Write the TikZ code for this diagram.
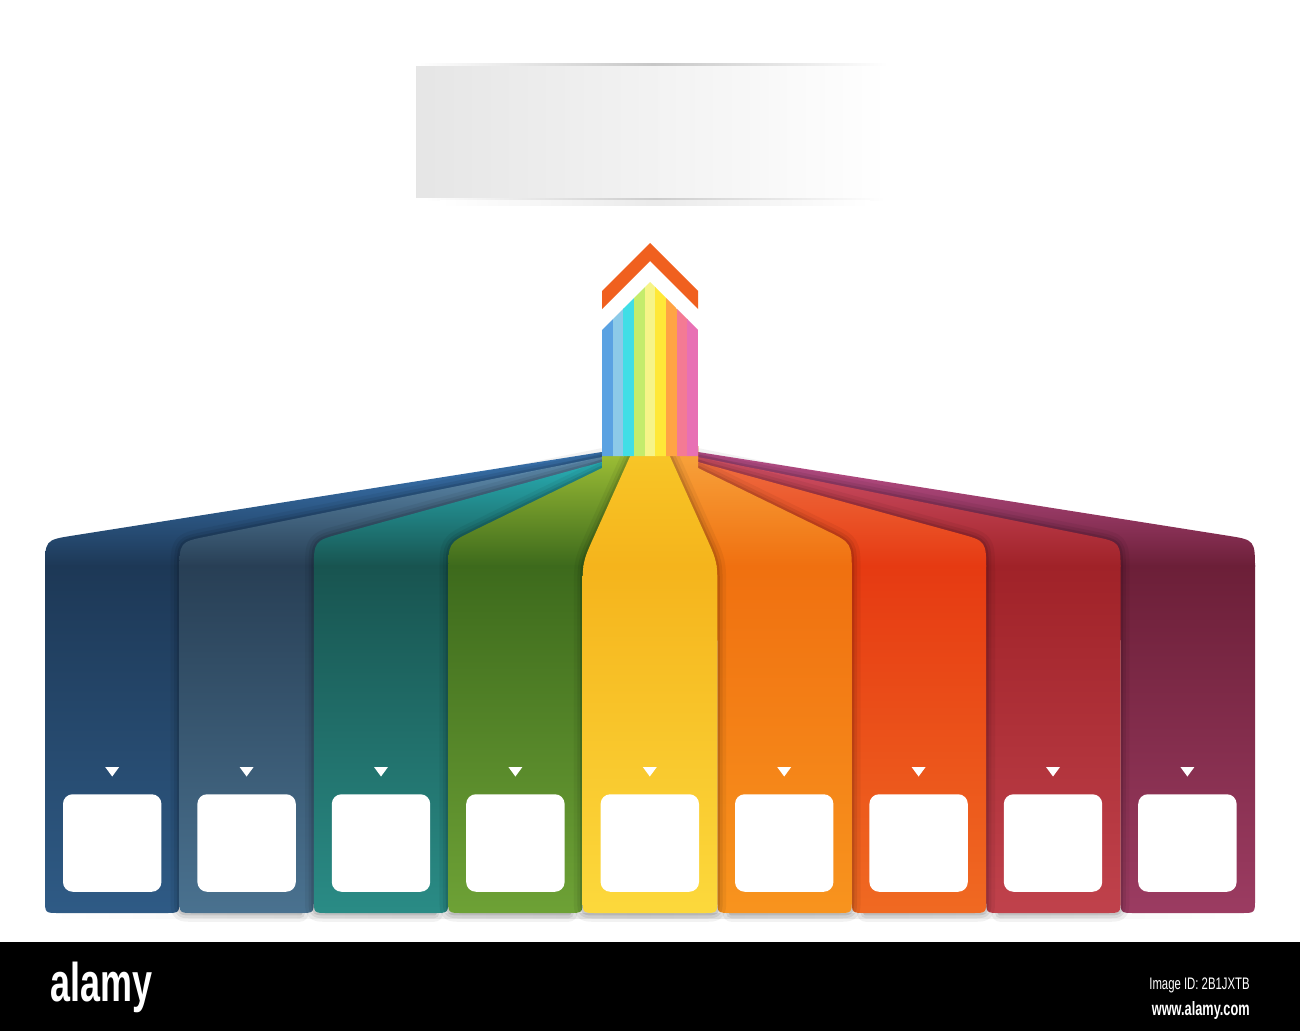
\documentclass[tikz,border=0pt]{standalone}
\usepackage{fontspec}
\setmainfont{Liberation Sans}
\usepackage{graphicx}
\usetikzlibrary{calc}
% panel colours: r = ribbon (top), d = dark (upper body), l = light (bottom)
\definecolor{p1r}{HTML}{3F7FC0}\definecolor{p1d}{HTML}{1D3856}\definecolor{p1l}{HTML}{2F5B86}
\definecolor{p2r}{HTML}{6A9CC0}\definecolor{p2d}{HTML}{283F55}\definecolor{p2l}{HTML}{4A7290}
\definecolor{p3r}{HTML}{2CC0C8}\definecolor{p3d}{HTML}{185450}\definecolor{p3l}{HTML}{2A8C86}
\definecolor{p4r}{HTML}{A8C838}\definecolor{p4d}{HTML}{3D6A1C}\definecolor{p4l}{HTML}{6EA236}
\definecolor{p5r}{HTML}{F8C828}\definecolor{p5d}{HTML}{F5B41C}\definecolor{p5l}{HTML}{FCD93C}
\definecolor{p6r}{HTML}{F8A840}\definecolor{p6d}{HTML}{F07010}\definecolor{p6l}{HTML}{F8941E}
\definecolor{p7r}{HTML}{F07848}\definecolor{p7d}{HTML}{E63A12}\definecolor{p7l}{HTML}{F06A22}
\definecolor{p8r}{HTML}{D85870}\definecolor{p8d}{HTML}{A02228}\definecolor{p8l}{HTML}{C0424C}
\definecolor{p9r}{HTML}{C85898}\definecolor{p9d}{HTML}{6C1F38}\definecolor{p9l}{HTML}{9C3C62}
% stem stripes
\definecolor{s1}{HTML}{5AA2E2}\definecolor{s2}{HTML}{8CCAE8}\definecolor{s3}{HTML}{40DEE6}
\definecolor{s4}{HTML}{C4EC6C}\definecolor{s5}{HTML}{F6F488}\definecolor{s6}{HTML}{FFE838}
\definecolor{s7}{HTML}{FFA444}\definecolor{s8}{HTML}{F47A94}\definecolor{s9}{HTML}{E870B4}
\definecolor{chev}{HTML}{F0601F}
\tikzset{
  glowA/.style={draw=black, line width=10pt, draw opacity=0.05, line join=round, line cap=round},
  glowB/.style={draw=black, line width=6pt, draw opacity=0.07, line join=round, line cap=round},
  glowC/.style={draw=black, line width=2.8pt, draw opacity=0.1, line join=round, line cap=round},
  box/.style={fill=white, minimum width=56pt, minimum height=55.5pt, inner sep=0pt, rounded corners=5.5pt},
  tri/.style={fill=white},
  banner/.style={minimum width=269pt, minimum height=74.8pt, inner sep=0pt, left color=black!10, right color=white},
  bartext/.style={text=white, inner sep=0pt}
}
% visible outline of a left-hand panel: #1 left x, #2 right x, #3 top vertex y, #4/#5 end of ribbon
\newcommand{\Lopen}[5]{(#2-14,913) -- (#1+14,913) .. controls (#1,913) .. (#1,899) -- (#1,#3+30) .. controls (#1,#3) .. ($(#1,#3)!16pt!(#4,#5)$) -- (#4,#5)}
\newcommand{\Lclosed}[5]{(#2-14,913) -- (#1+14,913) .. controls (#1,913) .. (#1,899) -- (#1,#3+30) .. controls (#1,#3) .. ($(#1,#3)!16pt!(#4,#5)$) -- (#4,#5) -- (#4,446) -- (650,446) -- (650,640) -- (#2,640) -- (#2,899) .. controls (#2,913) .. (#2-14,913) -- cycle}
\newcommand{\panelglow}[5]{%
  \path[glowA] \Lopen{#1}{#2}{#3}{#4}{#5};
  \path[glowB] \Lopen{#1}{#2}{#3}{#4}{#5};
  \path[glowC] \Lopen{#1}{#2}{#3}{#4}{#5};}
\newcommand{\panelfill}[8]{%
  \begin{scope}
    \clip \Lclosed{#1}{#2}{#3}{#4}{#5};
    \shade[top color=#6, bottom color=#7] (0,440) rectangle (1300,566);
    \shade[top color=#7, bottom color=#8] (0,565) rectangle (1300,916);
  \end{scope}}
\newcommand{\sidepanel}[8]{\panelglow{#1}{#2}{#3}{#4}{#5}\panelfill{#1}{#2}{#3}{#4}{#5}{#6}{#7}{#8}}
\newcommand{\Cshape}{(596.6,913) .. controls (582.6,913) .. (582.6,899) -- (582.6,592) .. controls (582.6,562) .. ($(582.6,562)!16pt!(632,452)$) -- (632,452) -- (668,452) -- ($(717.4,562)!16pt!(668,452)$) .. controls (717.4,562) .. (717.4,592) -- (717.4,899) .. controls (717.4,913) .. (703.4,913) -- cycle}
\begin{document}
\begin{tikzpicture}[x=0.02cm,y=-0.02cm]
\useasboundingbox (0,0) rectangle (1300,1031);
\fill[white] (0,0) rectangle (1300,1031);

% ---- title banner ----
\shade[left color=white, right color=white, middle color=black!22] (418,63.5) rectangle (888,66.5);
\shade[left color=white, right color=white, middle color=black!20] (425,197) rectangle (885,200);
\shade[left color=white, right color=white, middle color=black!8] (440,200) rectangle (870,205);
\node[banner] (title) at (652.5,132) {};

% ---- soft shadow under the row of panels ----
\shade[left color=white, right color=white, middle color=black!10] (50,913) rectangle (1250,918);

% ---- panels (back to front) ----
\panelfill{45}{179.4}{540}{602}{452}{p1r}{p1d}{p1l}
\begin{scope}[shift={(1300,0)},xscale=-1]
  \panelfill{45}{179.4}{540}{602}{452}{p9r}{p9d}{p9l}
\end{scope}
\sidepanel{179.4}{313.8}{542}{602}{457}{p2r}{p2d}{p2l}
\begin{scope}[shift={(1300,0)},xscale=-1]
  \sidepanel{179.4}{313.8}{542}{602}{457}{p8r}{p8d}{p8l}
\end{scope}
\sidepanel{313.8}{448.2}{541}{602}{462}{p3r}{p3d}{p3l}
\begin{scope}[shift={(1300,0)},xscale=-1]
  \sidepanel{313.8}{448.2}{541}{602}{462}{p7r}{p7d}{p7l}
\end{scope}
\sidepanel{448.2}{582.6}{543}{602}{468}{p4r}{p4d}{p4l}
\begin{scope}[shift={(1300,0)},xscale=-1]
  \sidepanel{448.2}{582.6}{543}{602}{468}{p6r}{p6d}{p6l}
\end{scope}
% centre panel
\path[glowA] \Cshape;
\path[glowB] \Cshape;
\path[glowC] \Cshape;
\begin{scope}
  \clip \Cshape;
  \shade[top color=p5r, bottom color=p5d] (0,440) rectangle (1300,566);
  \shade[top color=p5d, bottom color=p5l] (0,565) rectangle (1300,916);
\end{scope}

% ---- rainbow stem and chevron ----
\begin{scope}
  \clip (602,456) -- (602,330) -- (650,282) -- (698,330) -- (698,456) -- cycle;
  \foreach \c [count=\i from 0] in {s1,s2,s3,s4,s5,s6,s7,s8,s9}
    \fill[\c] ({602+\i*10.6667},270) rectangle ({602+\i*10.6667+11},460);
\end{scope}
\fill[chev] (650,243) -- (698,291) -- (698,309) -- (650,261) -- (602,309) -- (602,291) -- cycle;

% ---- markers and text boxes ----
\foreach \cx [count=\i] in {112.2,246.6,381,515.4,649.8,784.2,918.6,1053,1187.4}{
  \fill[tri] (\cx-7,767) -- (\cx+7,767) -- (\cx,776.5) -- cycle;
  \node[box] (box\i) at (\cx,843) {};
}

% ---- bottom bar ----
\fill[black] (0,942) rectangle (1300,1031);
\node[bartext, anchor=base west] (logo) at (50,1001) {\scalebox{0.66}[1]{\fontsize{31}{31}\selectfont\bfseries alamy}};
\node[bartext, anchor=base east] (imgid) at (1250,989) {\scalebox{0.68}[1]{\fontsize{9.5}{10}\selectfont Image ID: 2B1JXTB}};
\node[bartext, anchor=base east] (site) at (1250,1015) {\scalebox{0.66}[1]{\fontsize{11}{12}\selectfont\bfseries www.alamy.com}};
\end{tikzpicture}
\end{document}
